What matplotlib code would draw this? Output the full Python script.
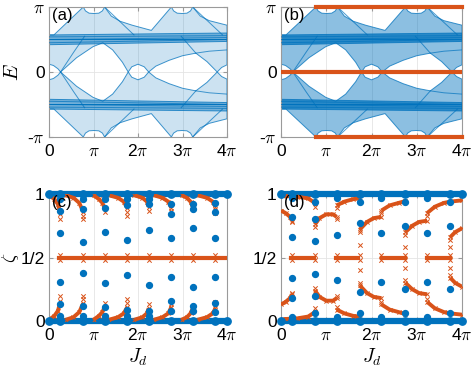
import matplotlib
matplotlib.use("Agg")
import matplotlib.pyplot as plt
from matplotlib.patches import Polygon
from matplotlib.colors import to_rgba

plt.rcParams["font.family"] = ["Liberation Sans", "DejaVu Sans"]
plt.rcParams["mathtext.fontset"] = "cm"

BLUE = "#0072BD"
ORANGE = "#D95319"

# ---- quasi-energy bands, upper half only (x = J_d/pi, E/pi); lower half is the mirror E -> -E
band_outer = [(0.0, 0.57), (0.11, 0.57), (0.77, 1.0), (0.82, 0.94), (0.9, 0.905), (1.01, 0.9),
              (1.12, 0.905), (1.2, 0.94), (1.25, 1.0), (1.4, 0.86), (1.6, 0.78), (1.87, 0.72),
              (2.3, 0.64), (2.75, 1.0), (2.8, 0.94), (2.88, 0.905), (2.99, 0.9), (3.1, 0.905),
              (3.18, 0.94), (3.23, 1.0), (3.4, 0.86), (3.6, 0.79), (4.0, 0.72), (4.0, 0.5), (0.0, 0.5)]
band_inner = [(0.0, 0.12), (0.1, 0.1), (0.2, 0.05), (0.26, 0.0), (0.62, 0.22), (0.99, 0.39),
              (1.21, 0.45), (1.43, 0.34), (1.65, 0.15), (1.78, 0.0), (1.86, 0.08), (2.0, 0.12),
              (2.14, 0.08), (2.24, 0.0), (2.4, 0.09), (2.7, 0.18), (3.0, 0.25), (3.3, 0.29),
              (3.55, 0.16), (3.78, 0.0), (3.88, 0.07), (4.0, 0.11), (4.0, 0.5), (0.0, 0.5)]
band_flat = [(0.0, 0.42), (4.0, 0.47), (4.0, 0.6), (0.0, 0.57)]
band_lines = [
    [(0.0, 0.45), (4.0, 0.5)],
    [(0.0, 0.5), (4.0, 0.53)],
    [(0.0, 0.54), (4.0, 0.56)],
    [(1.25, 1.0), (1.91, 0.57)],
    [(3.23, 1.0), (3.9, 0.57)],
    [(2.97, 0.55), (3.3, 0.29)],
    [(3.3, 0.29), (3.6, 0.32), (4.0, 0.34)],
    [(0.26, 0.0), (0.55, 0.3), (0.8, 0.55)],
]

# edge states in (b)
b_zero_x = [0.0, 4.0]
b_pi_x = [0.77, 4.0]

# ---- (c) Wannier centres
c_cols = [0.25, 0.77, 1.25, 1.76, 2.24, 2.75, 3.23, 3.74]
c_dots = [[0.96, 0.87, 0.69, 0.31, 0.13, 0.04],
          [0.96, 0.88, 0.62, 0.38, 0.12, 0.04],
          [0.96, 0.89, 0.70, 0.30, 0.11, 0.04],
          [0.96, 0.91, 0.64, 0.36, 0.09, 0.04],
          [0.96, 0.92, 0.72, 0.28, 0.08, 0.04],
          [0.92, 0.84, 0.65, 0.35, 0.16, 0.08],
          [0.92, 0.88, 0.73, 0.27, 0.12, 0.08],
          [0.93, 0.86, 0.65, 0.35, 0.14, 0.07]]
c_cross_top = [[0.84, 0.80, 0.52], [0.83, 0.80, 0.52], [0.86, 0.52], [0.86, 0.83, 0.52],
               [0.87, 0.52], [0.87, 0.52], [0.89, 0.52], [0.88, 0.85, 0.52]]
c_arcs_top = [
    [(0.0, 0.99), (0.12, 0.96), (0.2, 0.92), (0.24, 0.87)],
    [(0.38, 0.99), (0.55, 0.97), (0.68, 0.93), (0.77, 0.86)],
    [(1.0, 0.99), (1.12, 0.96), (1.2, 0.93), (1.25, 0.89)],
    [(1.35, 0.99), (1.55, 0.97), (1.68, 0.94), (1.76, 0.89)],
    [(1.92, 0.99), (2.1, 0.97), (2.2, 0.94), (2.24, 0.90)],
    [(2.36, 0.99), (2.55, 0.97), (2.68, 0.94), (2.75, 0.89)],
    [(2.98, 0.99), (3.1, 0.97), (3.18, 0.94), (3.23, 0.90)],
    [(3.34, 0.99), (3.55, 0.97), (3.68, 0.94), (3.74, 0.90)],
]
c_half_x = [0.22, 4.0]

# ---- (d)
d_cols = [0.24, 0.75, 1.23, 1.74, 2.22, 2.75, 3.23, 3.74]
d_dots = [[0.97, 0.82, 0.66, 0.34, 0.18, 0.03],
          [0.94, 0.80, 0.63, 0.37, 0.20, 0.06],
          [0.97, 0.68, 0.32, 0.03],
          [0.94, 0.77, 0.23, 0.06],
          [0.97, 0.69, 0.31, 0.03],
          [0.94, 0.75, 0.25, 0.06],
          [0.97, 0.69, 0.31, 0.03],
          [0.94, 0.75, 0.25, 0.06]]
d_cross_top = [[0.78, 0.52], [0.74, 0.90, 0.52], [0.80, 0.89, 0.52], [0.70, 0.60, 0.52],
               [0.85, 0.52], [0.68, 0.58, 0.52], [0.83, 0.52], [0.64, 0.58, 0.52]]
d_arcs_top = [
    [(0.05, 0.985), (0.35, 0.98), (0.6, 0.965), (0.75, 0.93)],
    [(0.0, 0.87), (0.1, 0.85), (0.2, 0.82), (0.24, 0.79)],
    [(0.75, 0.76), (0.85, 0.81), (1.0, 0.84), (1.15, 0.84), (1.23, 0.82)],
    [(1.23, 0.91), (1.4, 0.94), (1.6, 0.96), (1.74, 0.965)],
    [(1.74, 0.72), (1.9, 0.78), (2.05, 0.81), (2.22, 0.82)],
    [(2.22, 0.87), (2.4, 0.91), (2.6, 0.93), (2.75, 0.945)],
    [(2.75, 0.70), (2.9, 0.75), (3.05, 0.78), (3.23, 0.79)],
    [(3.23, 0.85), (3.4, 0.90), (3.6, 0.93), (3.74, 0.94), (4.0, 0.95)],
    [(3.74, 0.66), (3.85, 0.70), (4.0, 0.73)],
]
d_half_segs = [(0.22, 0.73), (1.21, 1.71), (2.24, 2.75), (3.23, 3.74)]

x_ticks = [0, 1, 2, 3, 4]
x_labels = ["0", r"$\pi$", r"2$\pi$", r"3$\pi$", r"4$\pi$"]


def style(ax, label):
    ax.set_xlim(0, 4)
    ax.set_xticks(x_ticks)
    ax.set_xticklabels(x_labels)
    for s in ax.spines.values():
        s.set_color("#9a9a9a")
        s.set_linewidth(0.8)
    ax.tick_params(direction="in", length=3, color="#9a9a9a", labelsize=12.5,
                   top=True, right=True, pad=3)
    ax.tick_params(axis="x", pad=5)
    ax.grid(True, color="#e4e4e4", lw=0.6)
    ax.set_axisbelow(True)
    ax.text(0.015, 0.99, label, transform=ax.transAxes, ha="left", va="top", fontsize=12, zorder=10)


def draw_bands(ax, fa, la):
    for sign in (1, -1):
        for poly, a in ((band_outer, fa), (band_inner, fa), (band_flat, la)):
            pts = [(x, sign * e) for x, e in poly]
            ax.add_patch(Polygon(pts, closed=True, fc=to_rgba(BLUE, a),
                                 ec=to_rgba(BLUE, 0.75), lw=0.7, zorder=2))
        for ln in band_lines:
            ax.plot([p[0] for p in ln], [sign * p[1] for p in ln], color=BLUE, lw=0.7,
                    alpha=0.7, zorder=3)


def draw_wannier(ax, cols, dots, crosses, arcs):
    for y in (0, 1):
        ax.plot([0, 4], [y, y], color=BLUE, lw=4.5, clip_on=False, zorder=3,
                solid_capstyle="round")
    for arc in arcs:
        for mirror in (False, True):
            xs = [p[0] for p in arc]
            ys = [1 - p[1] if mirror else p[1] for p in arc]
            ax.plot(xs, ys, color=ORANGE, lw=2.8, zorder=4, solid_capstyle="butt")
            ax.scatter(xs, ys, marker="x", s=9, color=ORANGE, lw=0.7, zorder=4)
    for x, zs in zip(cols, crosses):
        for z in zs:
            ax.scatter([x, x], [z, 1 - z], marker="x", s=10, color=ORANGE, lw=0.7, zorder=4)
    for x, zs in zip(cols, dots):
        ax.scatter([x] * len(zs), zs, s=18, color=BLUE, zorder=5, clip_on=False)
        ax.scatter([x, x], [0, 1], s=28, color=BLUE, zorder=5, clip_on=False)
    ax.scatter([0, 0, 4, 4], [0, 1, 0, 1], s=28, color=BLUE, zorder=5, clip_on=False)
    ax.set_ylim(0, 1)
    ax.set_yticks([0, 0.5, 1])
    ax.set_yticklabels(["0", "1/2", "1"])


fig = plt.figure(figsize=(4.74, 3.71), dpi=100)
W, H = 474, 371
ax_a = fig.add_axes([49 / W, 1 - 137 / H, 178 / W, 130 / H])
ax_b = fig.add_axes([281 / W, 1 - 137 / H, 181 / W, 130 / H])
ax_c = fig.add_axes([49 / W, 1 - 321 / H, 178 / W, 127 / H])
ax_d = fig.add_axes([281 / W, 1 - 321 / H, 181 / W, 127 / H])

for ax, fa, la in ((ax_a, 0.2, 0.45), (ax_b, 0.45, 0.7)):
    draw_bands(ax, fa, la)
    ax.set_ylim(-1, 1)
    ax.set_yticks([-1, 0, 1])
    ax.set_yticklabels([r"-$\pi$", "0", r"$\pi$"])

ax_b.plot(b_zero_x, [0, 0], color=ORANGE, lw=3, zorder=6)
for e in (1, -1):
    ax_b.plot(b_pi_x, [e, e], color=ORANGE, lw=3, zorder=6, clip_on=False)

draw_wannier(ax_c, c_cols, c_dots, c_cross_top, c_arcs_top)
ax_c.plot(c_half_x, [0.5, 0.5], color=ORANGE, lw=3, zorder=4)

draw_wannier(ax_d, d_cols, d_dots, d_cross_top, d_arcs_top)
for x0, x1 in d_half_segs:
    ax_d.plot([x0, x1], [0.5, 0.5], color=ORANGE, lw=3, zorder=4)

for ax, lab in ((ax_a, "(a)"), (ax_b, "(b)"), (ax_c, "(c)"), (ax_d, "(d)")):
    style(ax, lab)

ax_a.set_ylabel(r"$E$", fontsize=15)
ax_a.yaxis.set_label_coords(-0.15, 0.5)
ax_c.set_ylabel(r"$\zeta$", fontsize=13)
ax_c.yaxis.set_label_coords(-0.16, 0.5)
for ax in (ax_c, ax_d):
    ax.set_xlabel(r"$J_d$", fontsize=14)
    ax.xaxis.set_label_coords(0.5, -0.2)

fig.savefig("out.png", dpi=100)
